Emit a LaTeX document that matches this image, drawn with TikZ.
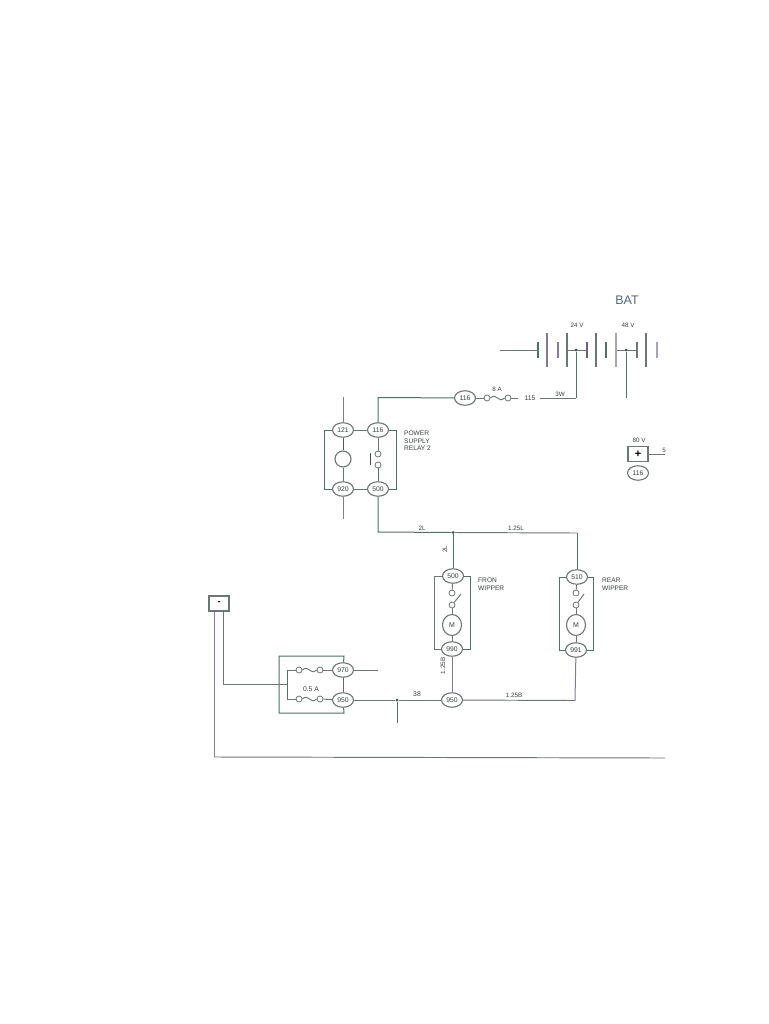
\documentclass[tikz,border=0pt]{standalone}
\usepackage{fontspec}
\setmainfont{Liberation Sans}
\usetikzlibrary{calc,shapes.geometric}
\definecolor{wg}{HTML}{5F7A6A}
\definecolor{wgd}{HTML}{4F7360}
\definecolor{wp}{HTML}{85789A}
\definecolor{wk}{HTML}{6E7674}
\definecolor{txt}{HTML}{3A3F40}
\definecolor{batc}{HTML}{566880}
\newcommand{\fusewave}[2]{\draw[wire] (#1.east) .. controls ($(#1.east)!0.45!(#2.west)+(0,-6)$) and ($(#1.east)!0.55!(#2.west)+(0,6)$) .. (#2.west);}
\tikzset{
  wire/.style={draw=wk,line width=0.95pt},
  gwire/.style={draw=wg,line width=1pt},
  dwire/.style={draw=wgd,line width=1pt},
  pwire/.style={draw=wp,line width=1pt},
  term/.style={ellipse,draw=wk,line width=1.1pt,fill=white,minimum width=21pt,minimum height=14.5pt,inner sep=0pt,text=txt,font=\fontsize{6.8}{7}\selectfont},
  contact/.style={circle,draw=wk,line width=0.8pt,fill=white,minimum size=6pt,inner sep=0pt},
  motor/.style={ellipse,draw=wk,line width=1.1pt,fill=white,minimum width=19pt,minimum height=21pt,inner sep=0pt,text=txt,font=\fontsize{7}{8}\selectfont},
  coil/.style={circle,draw=wk,line width=1.1pt,fill=white,minimum size=16pt,inner sep=0pt},
  lab/.style={text=txt,inner sep=0pt,font=\fontsize{6.3}{7}\selectfont},
  side/.style={text=txt,inner sep=0pt,align=left,anchor=north west,font=\fontsize{6.6}{7.5}\selectfont},
  longbar/.style={rectangle,fill=#1,minimum width=1.2pt,minimum height=34pt,inner sep=0pt},
  shortbar/.style={rectangle,fill=#1,minimum width=1.4pt,minimum height=16pt,inner sep=0pt},
  jn/.style={circle,fill=wgd!70!black,minimum size=3pt,inner sep=0pt},
  termbox/.style={rectangle,draw=wk,line width=1.1pt,fill=white,inner sep=0pt,minimum width=20pt,minimum height=15pt,text=black}
}
\begin{document}
\begin{tikzpicture}[x=1pt,y=-1pt]
\useasboundingbox (0,0) rectangle (768,1024);
\fill[white] (0,0) rectangle (768,1024);
% battery
\node[text=batc,inner sep=0pt,font=\fontsize{12.5}{14}\selectfont] (bat) at (627,300) {BAT};
\node[lab] (v24) at (577,325) {24 V};
\node[lab] (v48) at (628,325) {48 V};
\coordinate (batin) at (500,350);
\node[shortbar=wgd] (b1) at (538,350) {};
\node[longbar=wp!70!gray] (b2) at (547,350) {};
\node[shortbar=wp] (b3) at (558,350) {};
\node[longbar=wk] (b4) at (567,350) {};
\node[shortbar=wp!80!black] (b5) at (587,350) {};
\node[longbar=wk] (b6) at (596,350) {};
\node[shortbar=wgd] (b7) at (606,350) {};
\node[longbar=wp!70!white] (b8) at (616,350) {};
\node[shortbar=wk] (b9) at (637,350) {};
\node[longbar=wk] (b10) at (646,350) {};
\node[shortbar=wp!70!white] (b11) at (657,350) {};
\draw[wire] (batin) -- (b1);
\draw[wire] (b4) -- (b5);
\draw[wire] (b8) -- (b9);
\node[jn] (j24) at (576,350) {};
\node[jn] (j48) at (626,350) {};
\coordinate (c24) at (576,398);
\coordinate (e48) at (626,398);
\coordinate (c115) at (540,398);
\node[lab,font=\fontsize{6.8}{7}\selectfont] (w115) at (530,398.5) {115};
\draw[dwire] (j24) -- (c24);
\draw[wire] (c24) -- (c115);
\draw[dwire] (j48) -- (e48);
\node[lab] at (560,394) {3W};
% 80 V
\node[lab] (v80) at (639,440) {80 V};
\node[termbox,font=\fontsize{11}{12}\selectfont\bfseries] (plus) at (638,454) {+};
\node[term] (n116b) at (638,473) {116};
\coordinate (e80) at (665,454);
\draw[wire] (plus) -- (e80);
\node[lab] at (664,450) {5};
% relay
\node[term] (n116c) at (465,398) {116};
\node[contact] (f1a) at (487,398) {};
\node[contact] (f1b) at (508,398) {};
\coordinate (f1e) at (518,398);
\node[lab] at (497,389) {8 A};
\draw[wire] (n116c) -- (f1a);
\fusewave{f1a}{f1b}
\draw[wire] (f1b) -- (f1e);
\node[term] (n121) at (343,430) {121};
\node[term] (n116) at (378,430) {116};
\node[term] (n920) at (343,489) {920};
\node[term] (n500) at (378,489) {500};
\node[coil] (coil) at (343,459) {};
\node[contact] (r1) at (378,454) {};
\node[contact] (r2) at (378,465) {};
\coordinate (rb1) at (370,453);
\coordinate (rb2) at (370,465);
\coordinate (top121) at (343,397);
\coordinate (bot920) at (343,519);
\coordinate (cw1) at (378,397.5);
\coordinate (ll1) at (324,430);
\coordinate (ll2) at (324,489);
\coordinate (lr1) at (396,430);
\coordinate (lr2) at (396,489);
\draw[dwire] (n116c) -- (cw1) -- (n116);
\draw[pwire] (top121) -- (n121);
\draw[pwire] (n920) -- (bot920);
\draw[wp!70!black,line width=1pt] (n121) -- (coil);
\draw[gwire] (coil) -- (n920);
\draw[wire] (n121) -- (n116);
\draw[wire] (n920) -- (n500);
\draw[dwire] (n121.west) -- (ll1) -- (ll2) -- (n920.west);
\draw[dwire] (n116.east) -- (lr1) -- (lr2) -- (n500.east);
\draw[wire] (n116) -- (r1);
\draw[dwire] (r2) -- (n500);
\draw[black!70,line width=1pt] (rb1) -- (rb2);
\node[side] (psr) at (404,431) {POWER\\SUPPLY\\RELAY 2};
% upper bus
\coordinate (bus1) at (378,532);
\coordinate (bus2) at (577,533);
\node[jn] (j2l) at (453,532.5) {};
\node[term] (n500f) at (453,576) {500};
\node[term] (n990) at (452,649) {990};
\node[term] (n950m) at (452,700) {950};
\node[term] (n510) at (577,577) {510};
\node[term] (n991) at (576,650) {991};
\draw[dwire] (n500) -- (bus1) -- (j2l);
\draw[wire] (j2l) -- (bus2);
\draw[dwire] (bus2) -- (n510);
\draw[dwire] (j2l) -- (n500f);
\node[lab] at (422,528) {2L};
\node[lab] at (516,528) {1.25L};
\node[lab,rotate=90] at (445,549) {2L};
% front wiper
\node[contact] (fc1) at (452,593) {};
\node[contact] (fc2) at (452,605) {};
\coordinate (fs) at (461,594);
\node[motor] (mf) at (452,625) {M};
\draw[wire] (n500f) -- (fc1);
\draw[wire] (fc2) -- (mf);
\draw[wire] (fc2) -- (fs);
\draw[wire] (mf) -- (n990);
\coordinate (fl1) at (434,576);
\coordinate (fl2) at (434,649);
\coordinate (fr1) at (470,576);
\coordinate (fr2) at (470,649);
\draw[wire] (n500f.west) -- (fl1) -- (fl2) -- (n990.west);
\draw[dwire] (n500f.east) -- (fr1) -- (fr2) -- (n990.east);
\draw[pwire] (n990) -- (n950m);
\node[side] at (478,578) {FRON\\WIPPER};
\node[lab,rotate=90] at (443,666) {1.25B};
% rear wiper
\node[contact] (rc1) at (576,593) {};
\node[contact] (rc2) at (576,605) {};
\coordinate (rs) at (584,594);
\node[motor] (mr) at (576,625) {M};
\draw[wire] (n510) -- (rc1);
\draw[wire] (rc2) -- (mr);
\draw[wire] (rc2) -- (rs);
\draw[wire] (mr) -- (n991);
\coordinate (rl1) at (559,577);
\coordinate (rl2) at (559,650);
\coordinate (rr1) at (593,577);
\coordinate (rr2) at (593,650);
\draw[dwire] (n510.west) -- (rl1) -- (rl2) -- (n991.west);
\draw[dwire] (n510.east) -- (rr1) -- (rr2) -- (n991.east);
\node[side] at (602,578) {REAR\\WIPPER};
\coordinate (bc) at (575,700.5);
\draw[wire] (n950m) -- (bc);
\draw[pwire] (bc) -- (n991);
\node[lab] at (514,695) {1.25B};
% fuse block
\node[term] (n970) at (343,670) {970};
\node[term] (n950) at (343,700) {950};
\node[contact] (f2a) at (299,670) {};
\node[contact] (f2b) at (320,670) {};
\node[contact] (f3a) at (299,699) {};
\node[contact] (f3b) at (320,699) {};
\fusewave{f2a}{f2b}
\fusewave{f3a}{f3b}
\draw[wire] (f2b) -- (n970);
\draw[wire] (f3b) -- (n950);
\node[lab,font=\fontsize{6.8}{7}\selectfont] at (311,689) {0.5 A};
\coordinate (br1) at (287,670);
\coordinate (br2) at (287,699);
\coordinate (brm) at (287,684);
\draw[dwire] (br1) -- (br2);
\draw[wire] (br1) -- (f2a);
\draw[wire] (br2) -- (f3a);
\draw[wp!80!black,line width=1pt] (n970) -- (n950);
\coordinate (o1) at (279,656);
\coordinate (o2) at (344,656);
\coordinate (o3) at (279,713);
\coordinate (o4) at (344,713);
\draw[dwire] (n970) -- (o2) -- (o1) -- (o3) -- (o4) -- (n950);
\coordinate (e970) at (378,670);
\draw[wire] (n970) -- (e970);
\node[jn] (j38) at (397,700) {};
\coordinate (e38) at (397,723);
\draw[wire] (n950) -- (j38);
\draw[wire] (j38) -- (n950m);
\draw[dwire] (j38) -- (e38);
\node[lab,font=\fontsize{6.8}{7}\selectfont] at (417,694) {38};
% minus box
\node[termbox,font=\fontsize{9}{10}\selectfont\bfseries] (minus) at (219,603.5) {-};
\coordinate (mc1) at (223,684);
\coordinate (ms1) at ($(minus.south)+(4,0)$);
\coordinate (ms2) at ($(minus.south)+(-5,0)$);
\coordinate (gc1) at (214,757);
\coordinate (gc2) at (665,758);
\draw[wire] (ms1) -- (mc1) -- (brm);
\draw[pwire] (ms2) -- (gc1);
\draw[wire] (gc1) -- (gc2);
\end{tikzpicture}
\end{document}
